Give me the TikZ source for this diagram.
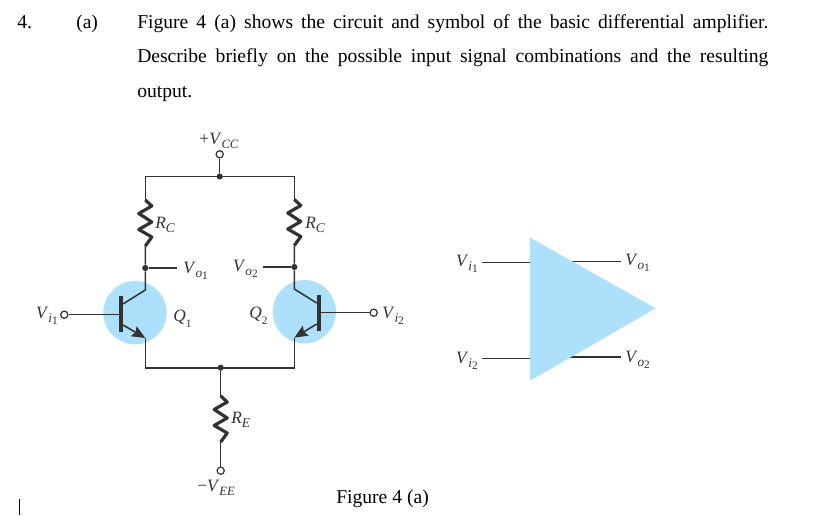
\documentclass[tikz,border=0pt]{standalone}
\usepackage{fontspec}
\setmainfont{Liberation Serif}
\usetikzlibrary{arrows.meta}
\newcommand{\lab}[3]{{\fontsize{13}{14}\selectfont\textit{#1}\raisebox{-0.5ex}{\fontsize{10}{10}\selectfont\textit{#2}\raisebox{-0.35ex}{\fontsize{8.5}{8}\selectfont\textup{#3}}}}}
\definecolor{sky}{RGB}{173,224,250}
\definecolor{ink}{RGB}{50,50,50}
\tikzset{
  x=0.75pt,y=-0.75pt,
  wire/.style={draw=ink,line width=1.15pt},
  body/.style={draw=ink,line width=2.4pt,line join=round},
  bar/.style={draw=ink,line width=3pt},
  joint/.style={circle,fill=ink,inner sep=0pt,minimum size=4.6pt},
  term/.style={circle,draw=ink,fill=white,line width=0.9pt,inner sep=0pt,minimum size=5.4pt},
  para/.style={inner sep=0pt,anchor=base west,font=\fontsize{14.7}{25.9}\selectfont},
  tag/.style={inner sep=0pt,text=ink},
  blob/.style={fill=sky,draw=none},
  tip/.style={-{Stealth[length=10pt,width=8.5pt,inset=1.5pt]}}
}
\newcommand{\zig}[1]{\draw[body] (#1) -- ++(6.5,6) -- ++(-13,7.5) -- ++(13,8.5) -- ++(-13,7.5) -- ++(13,7.5) -- ++(-6.5,9);}
\begin{document}
\begin{tikzpicture}
\useasboundingbox (0,0) rectangle (831,515);
% question text
\node[para] (num) at (17,28) {4.};
\node[para] (part) at (76,28) {(a)};
\node[para,text width=473.4pt,align=justify] (body) at (137,28) {Figure 4 (a) shows the circuit and symbol of the basic differential amplifier.\linebreak Describe briefly on the possible input signal combinations and the resulting\linebreak output.};
\node[para] (cap) at (336,503) {Figure 4 (a)};
\coordinate (cursT) at (19,499);
\coordinate (cursB) at (19,515);
\draw[line width=0.75pt,draw=black] (cursT) -- (cursB);
% blue discs
\node[blob,circle,minimum size=47.5pt,inner sep=0pt] (disc1) at (135,312.7) {};
\node[blob,circle,minimum size=47.5pt,inner sep=0pt] (disc2) at (304.3,311.7) {};
% coordinates
\node[term] (vcc) at (219.7,154.3) {};
\node[joint] (jt) at (219.7,176.5) {};
\coordinate (tl) at (145.3,176.5);
\coordinate (tr) at (294.3,176.5);
\coordinate (r1t) at (145.3,200);
\coordinate (r1b) at (145.3,246);
\coordinate (r2t) at (294.3,199.5);
\coordinate (r2b) at (294.3,245.5);
\node[joint] (jo1) at (145.3,268) {};
\node[joint] (jo2) at (294.3,267) {};
\coordinate (o1e) at (176.7,268);
\coordinate (o2e) at (263,267);
\coordinate (c1) at (145.3,290);
\coordinate (c2) at (294.3,289);
\coordinate (e1) at (145.3,338);
\coordinate (e2) at (294.3,337.7);
\coordinate (bl) at (145.3,368);
\coordinate (br) at (294.3,368);
\node[joint] (jb) at (220.7,367.7) {};
\coordinate (ret) at (220.7,396);
\coordinate (reb) at (220.7,442);
\node[term] (vee) at (220.7,470.7) {};
\node[term] (in1) at (64.3,314.7) {};
\node[term] (in2) at (373.7,312.7) {};
% bars
\coordinate (b1t) at (121,295.7);
\coordinate (b1b) at (121,331.7);
\coordinate (b1m) at (121,314.7);
\coordinate (b1c) at (123,304);
\coordinate (b1e) at (123,325);
\coordinate (b2t) at (318.7,295);
\coordinate (b2b) at (318.7,330.7);
\coordinate (b2m) at (318.7,312.7);
\coordinate (b2c) at (316.7,303);
\coordinate (b2e) at (316.7,324);
% wiring
\draw[wire] (vcc) -- (jt);
\draw[wire] (r1t) -- (tl) -- (tr) -- (r2t);
\draw[wire] (r1b) -- (jo1) -- (c1) -- (b1c);
\draw[wire] (r2b) -- (jo2) -- (c2) -- (b2c);
\draw[wire] (jo1) -- (o1e);
\draw[wire] (jo2) -- (o2e);
\draw[wire] (e1) -- (bl) -- (br) -- (e2);
\draw[wire] (jb) -- (ret);
\draw[wire] (reb) -- (vee);
\draw[wire] (in1) -- (b1m);
\draw[wire] (in2) -- (b2m);
\draw[bar] (b1t) -- (b1b);
\draw[bar] (b2t) -- (b2b);
\draw[wire,tip,fill=ink] (b1e) -- (e1);
\draw[wire,tip,fill=ink] (b2e) -- (e2);
\zig{r1t}
\zig{r2t}
\zig{ret}
% circuit labels
\node[tag] (lvcc) at (219,141) {\fontsize{13}{14}\selectfont +\textit{V}\raisebox{-0.5ex}{\fontsize{9.5}{10}\selectfont\textit{CC}}};
\node[tag,anchor=west] (lrc1) at (155,226) {\lab{R}{C}{}};
\node[tag,anchor=west] (lrc2) at (305,226) {\lab{R}{C}{}};
\node[tag,anchor=west] (lo1) at (183,271) {\lab{V}{o}{1}};
\node[tag,anchor=east] (lo2) at (258,269) {\lab{V}{o}{2}};
\node[tag,anchor=west] (lq1) at (173,319) {\lab{Q}{}{1}};
\node[tag,anchor=west] (lq2) at (249,316) {\lab{Q}{}{2}};
\node[tag,anchor=east] (li1) at (58,316) {\lab{V}{i}{1}};
\node[tag,anchor=west] (li2) at (382,316) {\lab{V}{i}{2}};
\node[tag,anchor=west] (lre) at (231,421) {\lab{R}{E}{}};
\node[tag] (lvee) at (216,488) {\fontsize{13}{14}\selectfont \textminus\textit{V}\raisebox{-0.5ex}{\fontsize{9.5}{10}\selectfont\textit{EE}}};
% symbol
\coordinate (a1) at (482,262.7);
\coordinate (a2) at (482,358.3);
\coordinate (a3) at (621,261.7);
\coordinate (a4) at (621,357);
\coordinate (t1) at (530,262.7);
\coordinate (t2) at (530,358.3);
\coordinate (t3) at (560,261.7);
\coordinate (t4) at (560,357);
\draw[wire] (a1) -- (t1);
\draw[wire] (a2) -- (t2);
\draw[wire] (a3) -- (t3);
\draw[wire] (a4) -- (t4);
\fill[sky] (530,237.7) -- (655.7,308.3) -- (530,380.7) -- cycle;
\node[tag,anchor=east] (si1) at (478,264) {\lab{V}{i}{1}};
\node[tag,anchor=east] (si2) at (478,361) {\lab{V}{i}{2}};
\node[tag,anchor=west] (so1) at (625,263) {\lab{V}{o}{1}};
\node[tag,anchor=west] (so2) at (625,360) {\lab{V}{o}{2}};
\end{tikzpicture}
\end{document}
